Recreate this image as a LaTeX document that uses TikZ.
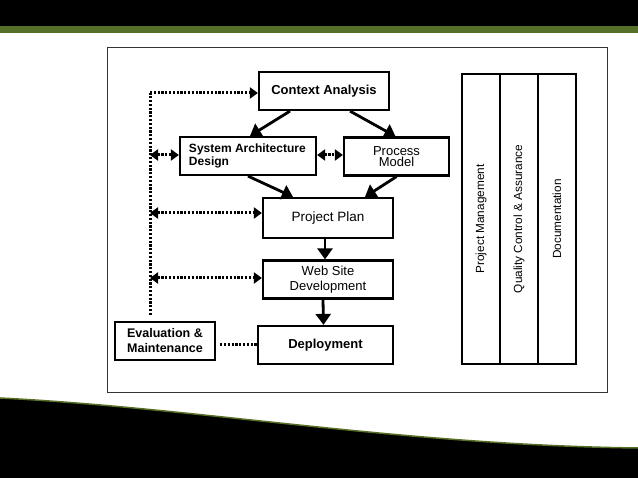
\documentclass[tikz,border=0pt]{standalone}
\usepackage{fontspec}
\setmainfont{Liberation Sans}
\usetikzlibrary{arrows.meta}
\definecolor{olivebar}{RGB}{86,112,40}
\begin{document}
\begin{tikzpicture}[x=1pt,y=-1pt,
 box/.style={draw,line width=2.2pt,minimum width=#1,minimum height=38pt,inner sep=0pt,align=center},
 sol/.style={line width=2.8pt,-{Triangle[length=11pt,width=15pt]}},
 dot/.style={line width=3pt,dash pattern=on 2.2pt off 1.6pt,-{Triangle[length=8pt,width=11pt]}},
 dotb/.style={dot,{Triangle[length=8pt,width=11pt]}-{Triangle[length=8pt,width=11pt]}}]
\useasboundingbox (0,0) rectangle (638,478);
\fill[white] (0,0) rectangle (638,478);
\fill[black] (0,0) rectangle (638,26);
\fill[olivebar] (0,26) rectangle (638,33);
\draw[line width=1pt,black!80] (107,48) rectangle (607,393);
\node[box=130pt,font=\bfseries\fontsize{13}{13}\selectfont] (ca) at (324,91) {Context Analysis};
\node[box=136pt,align=left,font=\bfseries\fontsize{12}{13}\selectfont] (sad) at (248,156) {System Architecture\\Design\hspace*{6.5em}\hfill};
\node[box=105pt,font=\fontsize{13}{11.5}\selectfont] (pm) at (396.5,156.5) {Process\\Model};
\node[box=130pt,font=\fontsize{13.5}{13}\selectfont,minimum height=40pt] (pp) at (328,218) {Project Plan};
\node[box=130pt,font=\fontsize{13}{15}\selectfont] (ws) at (328,279.5) {Web Site\\Development};
\node[box=135pt,font=\bfseries\fontsize{13}{13}\selectfont] (dp) at (325.5,345) {Deployment};
\node[box=100pt,font=\bfseries\fontsize{12.5}{15}\selectfont] (em) at (165,341) {Evaluation \&\\Maintenance};
\foreach \x/\t in {481/Project Management,519/Quality Control \& Assurance,557/Documentation}
 \node[draw,line width=2.2pt,minimum width=38pt,minimum height=290pt,inner sep=0pt] (c\x) at (\x,219)
  {\rotatebox{90}{\fontsize{11.8}{10}\selectfont \t}};
\coordinate (top) at (150,93);
\coordinate (bot) at (150,315);
\draw[line width=3pt,dash pattern=on 2.2pt off 1.6pt] (bot) -- (top);
\draw[dot] (top) -- (ca.west|-top);
\draw[dotb] (150,155) -- (sad.west|-0,155);
\draw[dotb] (150,213) -- (pp.west|-0,213);
\draw[dotb] (150,278) -- (ws.west|-0,278);
\draw[dotb] (sad.east|-0,155) -- (pm.west|-0,155);
\draw[line width=3pt,dash pattern=on 2.2pt off 1.6pt] (em.east|-0,345) ++(4,0) -- (dp.west|-0,345);
\draw[sol] (ca.south)++(-34,0) -- ([xshift=2pt]sad.north);
\draw[sol] (ca.south)++(26,0) -- ([xshift=-1pt]pm.north);
\draw[sol] (sad.south) -- ([xshift=-35pt]pp.north);
\draw[sol] (pm.south) -- ([xshift=37pt]pp.north);
\draw[sol] ([xshift=-3pt]pp.south) -- ([xshift=-3pt]ws.north);
\draw[sol] ([xshift=-5pt]ws.south) -- ([xshift=-2pt]dp.north);
\fill[black] (0,478) -- (0,398) .. controls (200,408) and (400,445) .. (638,448) -- (638,478) -- cycle;
\draw[olivebar,line width=1.5pt] (0,398) .. controls (200,408) and (400,445) .. (638,448);
\end{tikzpicture}
\end{document}
